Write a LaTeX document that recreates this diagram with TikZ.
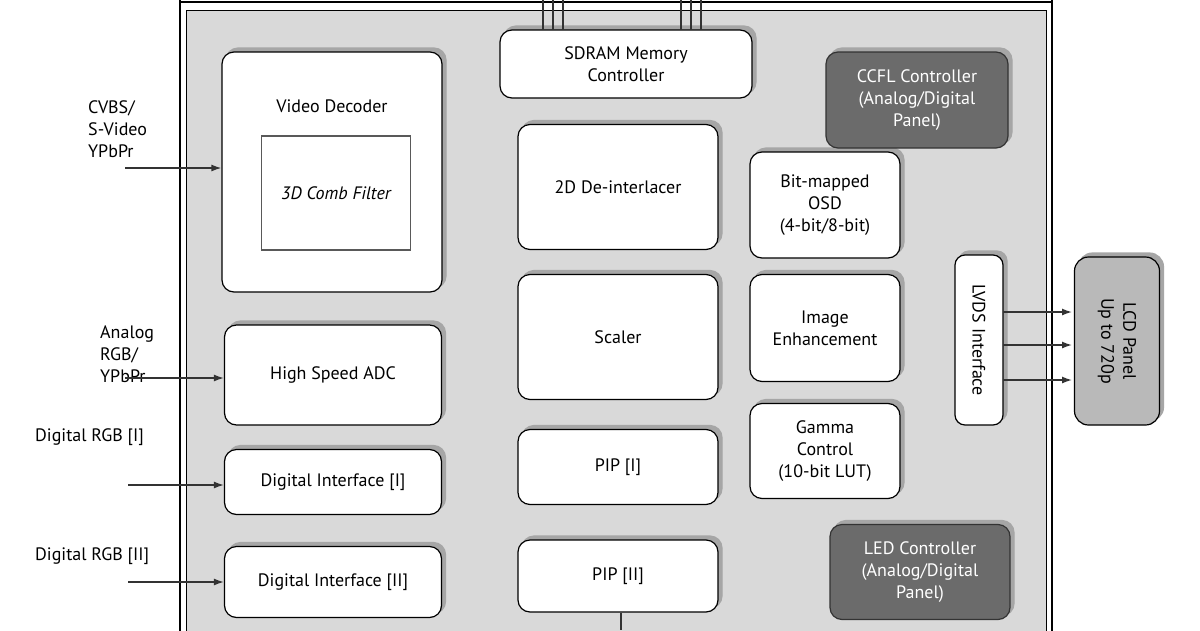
\documentclass[tikz,border=0pt]{standalone}
\usepackage{fontspec}
\setmainfont{PT Sans}
\usetikzlibrary{arrows.meta}
\begin{document}
\begin{tikzpicture}[x=1pt,y=-1pt,
  box/.style={draw=black,line width=1.2pt,fill=white,rounded corners=12pt,align=center,inner sep=0pt,
    font=\fontsize{18}{22}\selectfont,
    preaction={fill=gray!70,draw=gray!70,transform canvas={xshift=4pt,yshift=4pt}}},
  dbox/.style={box,fill=black!58,text=white,draw=black!80},
  arr/.style={-{Latex[length=10pt,width=7pt]},line width=1.4pt,draw=black!80},
  lbl/.style={font=\fontsize{18}{22}\selectfont,align=left,inner sep=0pt}]
\useasboundingbox (0,0) rectangle (1200,630);
\fill[white] (0,0) rectangle (1200,630);
\fill[gray!30] (186,10) rectangle (1046,640);
\draw[line width=1.2pt] (180,-5) -- (180,640) (1052,-5) -- (1052,640) (180,2) -- (1052,2);
\draw[line width=1pt] (186,640) -- (186,10) -- (1046,10) -- (1046,640);
% nodes
\node[box,minimum width=252,minimum height=68] (sdram) at (626,64) {SDRAM Memory\\Controller};
\node[box,minimum width=220,minimum height=240] (vd) at (332,172) {};
\node[font=\fontsize{18}{22}\selectfont] (vdt) at (332,106) {Video Decoder};
\node[draw=gray!70!black,line width=1.5pt,fill=white,minimum width=149,minimum height=114,font=\fontsize{18}{22}\selectfont\itshape] (comb) at (336,193) {3D Comb Filter};
\node[box,minimum width=200,minimum height=125] (dei) at (618,187) {2D De-interlacer};
\node[box,minimum width=200,minimum height=125] (sc) at (618,337) {Scaler};
\node[box,minimum width=200,minimum height=75] (pip1) at (618,467) {PIP [I]};
\node[box,minimum width=200,minimum height=72] (pip2) at (618,576) {PIP [II]};
\node[box,minimum width=217,minimum height=100] (adc) at (333,375) {High Speed ADC};
\node[box,minimum width=217,minimum height=65] (di1) at (333,482) {Digital Interface [I]};
\node[box,minimum width=217,minimum height=71] (di2) at (333,582) {Digital Interface [II]};
\node[box,minimum width=150,minimum height=106] (osd) at (825,205) {Bit-mapped\\OSD\\(4-bit/8-bit)};
\node[box,minimum width=150,minimum height=107] (ie) at (825,328) {Image\\Enhancement};
\node[box,minimum width=150,minimum height=95] (gam) at (825,451) {Gamma\\Control\\(10-bit LUT)};
\node[dbox,minimum width=182,minimum height=96] (ccfl) at (917,100) {CCFL Controller\\(Analog/Digital\\Panel)};
\node[dbox,minimum width=180,minimum height=95] (led) at (920,572) {LED Controller\\(Analog/Digital\\Panel)};
\node[box,rounded corners=10pt,minimum width=48,minimum height=170] (lvds) at (979,340) {};
\node[rotate=-90,font=\fontsize{18}{22}\selectfont] at (lvds) {LVDS Interface};
\node[box,fill=gray!55,minimum width=85,minimum height=168,rounded corners=14pt] (lcd) at (1117,341) {};
\node[rotate=-90,align=center,font=\fontsize{18}{22}\selectfont] at (lcd) {LCD Panel\\Up to 720p};
% connectors
\foreach \x in {543,553,563,681,691,701}{
  \coordinate (t\x) at (\x,0);
  \draw[line width=1.2pt,draw=black!80] (t\x) -- (\x,30);}
\coordinate (pb) at (621,630);
\draw[line width=1.2pt,draw=black!80] (pip2.south) ++(3,0) -- (pb);
\foreach \y in {312,345,380}{\draw[arr] (1003,\y) -- (1072,\y);}
\node[lbl,anchor=north west] (l1) at (88,100) {CVBS/\\S-Video\\YPbPr};
\coordinate (i1) at (125,168);
\draw[arr] (i1) -- (vd.west |- i1);
\node[lbl,anchor=north west] (l2) at (100,325) {Analog\\RGB/\\YPbPr};
\coordinate (i2) at (125,378);
\draw[arr] (i2) -- (adc.west |- i2);
\node[lbl,anchor=west] (l3) at (35,437) {Digital RGB [I]};
\coordinate (i3) at (128,485);
\draw[arr] (i3) -- (di1.west |- i3);
\node[lbl,anchor=west] (l4) at (35,556) {Digital RGB [II]};
\coordinate (i4) at (128,582);
\draw[arr] (i4) -- (di2.west |- i4);
\end{tikzpicture}
\end{document}
